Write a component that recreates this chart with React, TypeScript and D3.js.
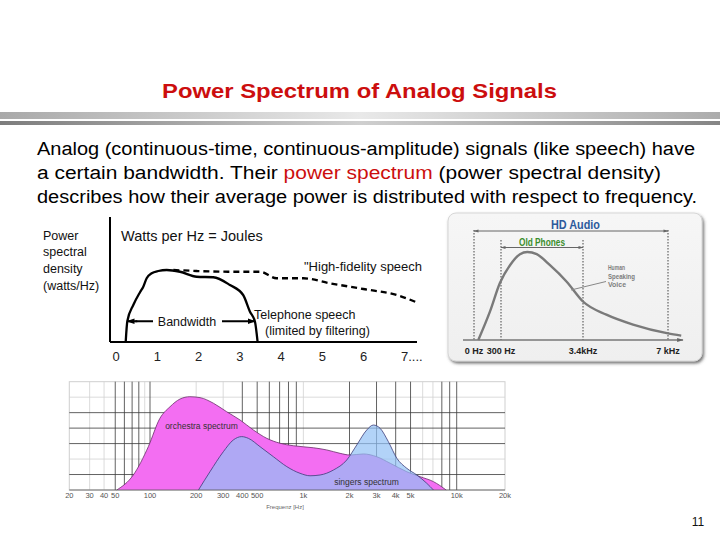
import React from "react";
import * as d3 from "d3";

// ---------- text ----------
const titleText = "Power Spectrum of Analog Signals";
const bodyLine1 = "Analog (continuous-time, continuous-amplitude) signals (like speech) have";
const bodyLine2a = "a certain bandwidth. Their ";
const bodyLine2b = "power spectrum";
const bodyLine2c = " (power spectral density)";
const bodyLine3 = "describes how their average power is distributed with respect to frequency.";
const yAxisLabelLines = ["Power", "spectral", "density", "(watts/Hz)"];
const voiceLabelLines = ["Human", "Speaking", "Voice"];

// ---------- left diagram (kHz vs PSD) ----------
const psdTickValues = [0, 1, 2, 3, 4, 5, 6, 7];
const psdTickLabels = ["0", "1", "2", "3", "4", "5", "6", "7...."];
const telephoneFreq = [0.235, 0.274, 0.419, 0.581, 0.661, 0.743, 0.864, 1.024, 1.228, 1.55, 1.954, 2.356, 2.76, 3.08, 3.245, 3.366, 3.43];
const telephonePsd = [0, 1.66, 2.96, 3.98, 4.42, 5.1, 5.5, 5.68, 5.76, 5.62, 5.22, 5.18, 4.56, 3.76, 2.42, 1.62, 0];
const hifiFreq = [1.39, 1.954, 2.76, 3.49, 3.89, 4.54, 5.18, 5.99, 6.8, 7.28];
const hifiPsd = [5.76, 5.68, 5.62, 5.62, 5.1, 5.1, 4.7, 4.24, 3.76, 3.18];
const bandwidthLevel = 1.66;
const bandwidthFrom = 0.274;
const bandwidthTo = 3.36;

// ---------- right panel (HD audio) ----------
const hdTickValues = [0, 300, 3400, 7000];
const hdTickLabels = ["0 Hz", "300 Hz", "3.4kHz", "7 kHz"];
const voiceHz = [48, 178, 289, 640, 1018, 1294, 1650, 2152, 2784, 3400, 4391, 5520, 7000, 7567];
const voiceAmp = [0, 0.26, 0.52, 0.68, 0.78, 0.8, 0.78, 0.68, 0.53, 0.35, 0.23, 0.14, 0.06, 0.04];

// ---------- bottom spectrum ----------
const specTickValues = [20, 30, 40, 50, 100, 200, 300, 400, 500, 1000, 2000, 3000, 4000, 5000, 10000, 20000];
const specTickLabels = ["20", "30", "40", "50", "100", "200", "300", "400", "500", "1k", "2k", "3k", "4k", "5k", "10k", "20k"];
const specLightGrid = [30, 40, 90, 200, 300, 1000, 6000, 7000];
const specDarkGrid = [50, 60, 70, 80, 100, 400, 500, 600, 700, 800, 900, 2000, 3000, 4000, 5000, 8000, 9000, 10000];
const levelDark = [1, 3, 4, 5];
const levelLight = [2, 6];
const orchestraHz = [51.5, 71.7, 96.7, 116, 135, 157, 182, 212, 259, 316, 386, 472, 577, 705, 861, 1162, 1420, 1735, 2017, 2464, 3013, 3681, 4730, 5775, 7053, 8535];
const orchestraLevel = [0, 0.97, 2.8, 4.63, 5.38, 5.88, 6.03, 5.97, 5.61, 5.06, 4.53, 3.88, 3.34, 3.02, 2.86, 2.73, 2.59, 2.37, 2.26, 2.33, 2.15, 1.73, 1.18, 0.86, 0.54, 0];
const singerHz = [207, 246, 301, 349, 396, 438, 522, 638, 780, 951, 1106, 1285, 1570, 1919, 2230, 2591, 2862, 3165, 3586, 4071, 4730, 5496, 6385, 7053];
const singerLevel = [0, 1.18, 2.48, 3.23, 3.45, 3.34, 2.8, 2.15, 1.51, 1.08, 0.92, 0.97, 1.29, 1.94, 2.91, 3.88, 4.2, 3.99, 3.12, 2.05, 1.4, 0.97, 0.43, 0];

const FONT = "'Liberation Sans', Arial, Helvetica, sans-serif";

export default function App() {
  // left diagram scales
  const xL = d3.scaleLinear().domain([0, 7]).range([116, 405]);
  const yL = d3.scaleLinear().domain([0, 10]).range([342, 217]);
  const telPts = telephoneFreq.map((f, i) => [f, telephonePsd[i]] as [number, number]);
  const hifiPts = hifiFreq.map((f, i) => [f, hifiPsd[i]] as [number, number]);
  const lineL = d3.line<[number, number]>().x(d => xL(d[0])).y(d => yL(d[1])).curve(d3.curveMonotoneX);

  // right panel scales
  const xR = d3.scaleLinear().domain([0, 300, 3400, 7000, 7600]).range([474, 501, 583, 668, 682]);
  const yR = d3.scaleLinear().domain([0, 1]).range([340, 230]);
  const voicePts = voiceHz.map((h, i) => [h, voiceAmp[i]] as [number, number]);
  const lineR = d3.line<[number, number]>().x(d => xR(d[0])).y(d => yR(d[1])).curve(d3.curveMonotoneX);

  // bottom spectrum scales
  const xB = d3.scaleLog().domain([20, 100, 10000, 20000]).range([69.3, 150, 456.7, 505]);
  const yB = d3.scaleLinear().domain([0, 7]).range([490, 381.7]);
  const orchPts = orchestraHz.map((h, i) => [h, orchestraLevel[i]] as [number, number]);
  const singPts = singerHz.map((h, i) => [h, singerLevel[i]] as [number, number]);
  const areaB = d3.area<[number, number]>().x(d => xB(d[0])).y0(yB(0)).y1(d => yB(d[1])).curve(d3.curveMonotoneX);
  const lineB = d3.line<[number, number]>().x(d => xB(d[0])).y(d => yB(d[1])).curve(d3.curveMonotoneX);

  const bx0 = xB(20), bx1 = xB(20000), by0 = yB(0), by1 = yB(7);

  return (
    <svg width={720} height={540} style={{ position: "absolute", left: 0, top: 0, background: "#fff" }} fontFamily={FONT}>
      <defs>
        <linearGradient id="bar1" x1="0" x2="1" y1="0" y2="0">
          <stop offset="0" stopColor="#a9a9a9" />
          <stop offset="0.5" stopColor="#e9e9e9" />
          <stop offset="1" stopColor="#acacac" />
        </linearGradient>
        <linearGradient id="bar2" x1="0" x2="1" y1="0" y2="0">
          <stop offset="0" stopColor="#7d7d7d" />
          <stop offset="0.5" stopColor="#cfcfcf" />
          <stop offset="1" stopColor="#858585" />
        </linearGradient>
        <linearGradient id="panel" x1="0" x2="0" y1="0" y2="1">
          <stop offset="0" stopColor="#f6f6f6" />
          <stop offset="1" stopColor="#efefef" />
        </linearGradient>
        <filter id="shadow" x="-10%" y="-10%" width="120%" height="125%">
          <feDropShadow dx="1.5" dy="2" stdDeviation="1.6" floodColor="#444" floodOpacity="0.75" />
        </filter>
        <marker id="arrB" viewBox="0 0 10 10" refX="9" refY="5" markerUnits="userSpaceOnUse" markerWidth="8" markerHeight="8" orient="auto-start-reverse">
          <path d="M0,1.5 L10,5 L0,8.5 z" fill="#000" />
        </marker>
        <marker id="arrG" viewBox="0 0 10 10" refX="9" refY="5" markerWidth="6" markerHeight="5" orient="auto-start-reverse">
          <path d="M0,2 L10,5 L0,8 z" fill="#666" />
        </marker>
      </defs>

      {/* title */}
      <text x={359.5} y={98} textAnchor="middle" fontSize={20.5} fontWeight="bold" fill="#cc0e0e" textLength={395} lengthAdjust="spacingAndGlyphs">{titleText}</text>
      <rect x={0} y={112} width={720} height={7} fill="url(#bar1)" />
      <rect x={0} y={121} width={720} height={4} fill="url(#bar2)" />

      {/* body text */}
      <text x={37} y={154.5} fontSize={18} fill="#000" textLength={658} lengthAdjust="spacingAndGlyphs">{bodyLine1}</text>
      <text x={37} y={178.5} fontSize={18} fill="#000" textLength={624} lengthAdjust="spacingAndGlyphs">
        {bodyLine2a}<tspan fill="#cc0e0e">{bodyLine2b}</tspan>{bodyLine2c}
      </text>
      <text x={37} y={202.5} fontSize={18} fill="#000" textLength={660} lengthAdjust="spacingAndGlyphs">{bodyLine3}</text>

      {/* left diagram */}
      {yAxisLabelLines.map((t, i) => (
        <text key={t} x={43} y={239.5 + i * 16.8} fontSize={12.5} fill="#111">{t}</text>
      ))}
      <text x={121} y={241} fontSize={14.5} fill="#111">Watts per Hz = Joules</text>
      <text x={304} y={271} fontSize={13} fill="#111">"High-fidelity speech</text>
      <line x1={110} y1={217} x2={110} y2={342} stroke="#000" strokeWidth={2} />
      <line x1={110} y1={342} x2={417} y2={342} stroke="#000" strokeWidth={2} />
      {psdTickValues.map((v, i) => (
        <text key={v} x={i === psdTickValues.length - 1 ? xL(v) - 4 : xL(v)} y={361} fontSize={13} fill="#222"
          textAnchor={i === psdTickValues.length - 1 ? "start" : "middle"}>{psdTickLabels[i]}</text>
      ))}
      <path d={lineL(hifiPts) || ""} fill="none" stroke="#000" strokeWidth={2.3} strokeDasharray="6,4" />
      <path d={lineL(telPts) || ""} fill="none" stroke="#000" strokeWidth={2.3} />
      <line x1={xL(bandwidthFrom) + 10} y1={yL(bandwidthLevel)} x2={xL(bandwidthFrom)} y2={yL(bandwidthLevel)} stroke="#000" strokeWidth={2} markerEnd="url(#arrB)" />
      <line x1={xL(bandwidthFrom) + 8} y1={yL(bandwidthLevel)} x2={153} y2={yL(bandwidthLevel)} stroke="#000" strokeWidth={2} />
      <line x1={222} y1={yL(bandwidthLevel)} x2={xL(bandwidthTo)} y2={yL(bandwidthLevel)} stroke="#000" strokeWidth={2} markerEnd="url(#arrB)" />
      <text x={187} y={325.5} fontSize={12.5} textAnchor="middle" fill="#111">Bandwidth</text>
      <text x={254} y={318.5} fontSize={12.5} fill="#111">Telephone speech</text>
      <text x={265} y={335} fontSize={12.5} fill="#111">(limited by filtering)</text>

      {/* right panel */}
      <rect x={448} y={213} width={254} height={148} rx={8} fill="url(#panel)" stroke="#d6d6d6" strokeWidth={1} filter="url(#shadow)" />
      {hdTickValues.map((v, i) => (
        <line key={v} x1={xR(v)} x2={xR(v)} y1={i === 0 || i === 3 ? 230 : 240} y2={340} stroke="#444" strokeWidth={1} strokeDasharray="1.5,1.5" />
      ))}
      <line x1={xR(0)} y1={231} x2={xR(7000)} y2={231} stroke="#666" strokeWidth={1} markerStart="url(#arrG)" markerEnd="url(#arrG)" />
      <line x1={xR(300)} y1={247.5} x2={xR(3400)} y2={247.5} stroke="#666" strokeWidth={1} markerStart="url(#arrG)" markerEnd="url(#arrG)" />
      <text x={575.5} y={229} fontSize={13} fontWeight="bold" fill="#2c5a9c" textAnchor="middle" textLength={49} lengthAdjust="spacingAndGlyphs">HD Audio</text>
      <text x={542} y={246} fontSize={10} fontWeight="bold" fill="#3b8d2c" textAnchor="middle" textLength={46} lengthAdjust="spacingAndGlyphs">Old Phones</text>
      <line x1={463} y1={340} x2={683} y2={340} stroke="#777" strokeWidth={1.3} markerEnd="url(#arrG)" />
      <path d={lineR(voicePts) || ""} fill="none" stroke="#7a7a7a" strokeWidth={2.4} />
      <line x1={606} y1={281.5} x2={571} y2={290} stroke="#888" strokeWidth={1} />
      {voiceLabelLines.map((t, i) => (
        <text key={t} x={608} y={270 + i * 8.6} fontSize={7.2} fontWeight="bold" fill="#7d7d7d" textLength={[17, 27, 18][i]} lengthAdjust="spacingAndGlyphs">{t}</text>
      ))}
      {hdTickValues.map((v, i) => (
        <text key={v} x={xR(v)} y={354} fontSize={9} fontWeight="bold" fill="#222" textAnchor="middle">{hdTickLabels[i]}</text>
      ))}

      {/* bottom spectrum */}
      <rect x={bx0} y={by1} width={bx1 - bx0} height={by0 - by1} fill="#fff" stroke="#cfcfcf" strokeWidth={1} />
      {specLightGrid.map(v => (
        <line key={"l" + v} x1={xB(v)} x2={xB(v)} y1={by1} y2={by0} stroke="#d2d2d2" strokeWidth={0.8} />
      ))}
      {levelLight.map(v => (
        <line key={"hl" + v} x1={bx0} x2={bx1} y1={yB(v)} y2={yB(v)} stroke="#d2d2d2" strokeWidth={0.8} />
      ))}
      {levelDark.map(v => (
        <line key={"hd" + v} x1={bx0} x2={bx1} y1={yB(v)} y2={yB(v)} stroke="#3a3a3a" strokeWidth={0.8} />
      ))}
      {specDarkGrid.map(v => (
        <line key={"d" + v} x1={xB(v)} x2={xB(v)} y1={by1} y2={by0} stroke="#3a3a3a" strokeWidth={0.8} />
      ))}
      <path d={areaB(orchPts) || ""} fill="#f36ef2" />
      <path d={lineB(orchPts) || ""} fill="none" stroke="#6a2d6a" strokeWidth={0.8} />
      <path d={areaB(singPts) || ""} fill="rgb(146,193,245)" fillOpacity={0.7} />
      <path d={lineB(singPts) || ""} fill="none" stroke="#3c3c78" strokeWidth={0.8} />
      <line x1={bx0} x2={bx1} y1={by0} y2={by0} stroke="#555" strokeWidth={0.8} />
      <text x={201.5} y={428.5} fontSize={8.5} fill="#333" textAnchor="middle">orchestra spectrum</text>
      <text x={366.5} y={484.5} fontSize={8.5} fill="#333" textAnchor="middle">singers spectrum</text>
      {specTickValues.map((v, i) => (
        <text key={v} x={xB(v)} y={497.5} fontSize={7.5} fill="#555" textAnchor="middle">{specTickLabels[i]}</text>
      ))}
      <text x={285} y={508.5} fontSize={6} fill="#666" textAnchor="middle">Frequenz [Hz]</text>

      {/* page number */}
      <text x={698} y={525.5} fontSize={12} fill="#111" textAnchor="middle">11</text>
    </svg>
  );
}
